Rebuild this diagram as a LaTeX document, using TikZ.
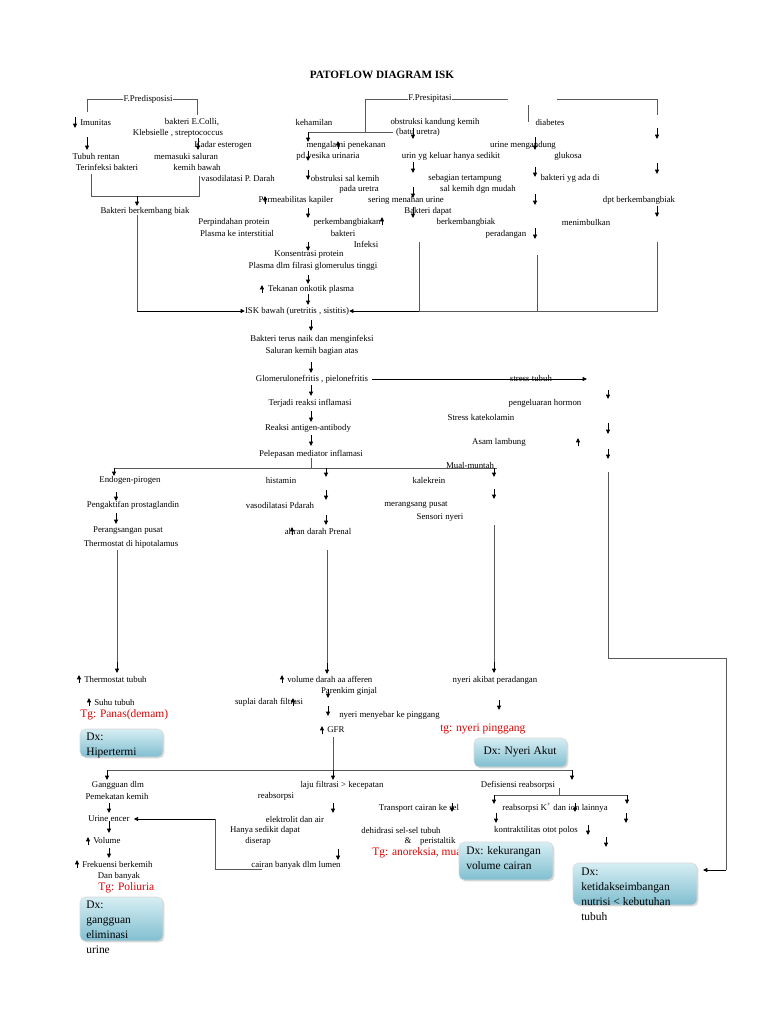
\documentclass[tikz,border=0pt]{standalone}
\usepackage{fontspec}
\setmainfont{Liberation Serif}
\usetikzlibrary{arrows.meta,shadows}
\begin{document}
\begin{tikzpicture}[x=0.75pt,y=-0.75pt,
  t/.style={inner sep=0pt,font=\fontsize{6.6}{7.5}\selectfont},
  tl/.style={t,anchor=west},
  red/.style={inner sep=0pt,anchor=west,text=red!90!black,font=\fontsize{8.6}{10}\selectfont},
  ln/.style={draw=black!65,line width=0.6pt},
  arr/.style={draw=black,line width=0.6pt,-{Triangle[length=3.2pt,width=3pt]}},
  dx/.style={draw=black!15,rounded corners=4pt,top color={rgb,255:red,214;green,238;blue,243},bottom color={rgb,255:red,128;green,190;blue,208},drop shadow={opacity=0.3,shadow xshift=1pt,shadow yshift=-1pt}},
  dxt/.style={inner sep=0pt,anchor=north west,align=left,font=\fontsize{8.6}{11.2}\selectfont}]
\useasboundingbox[fill=white] (0,0) rectangle (768,1024);
\newcommand\dar[3]{\draw[arr] (#1,#2) -- (#1,#3);}
\newcommand\uar[2]{\draw[arr] (#1,#2+4) -- (#1,#2-4);}

\node[inner sep=0pt,font=\bfseries\fontsize{8.4}{10}\selectfont] (title) at (382,75) {PATOFLOW DIAGRAM ISK};

% ---- F.Predisposisi
\node[t] (fpre) at (148,99) {F.Predisposisi};
\draw[ln] (fpre.west) -- (87,99) -- (87,112);
\draw[ln] (fpre.east) -- (197,99) -- (197,115);
\node[tl] (imu) at (80,123) {Imunitas}; \dar{75}{117}{128}
\node[t] (ecoli) at (192,122) {bakteri E.Colli,};
\node[t] (kleb) at (178,133) {Klebsielle , streptococcus};
\dar{87}{137}{150}
\node[t] (kadar) at (223,145) {Kadar esterogen}; \dar{198}{138}{150}
\node[t] (rentan) at (96,156) {Tubuh rentan};
\node[t] (masuk) at (186,156) {memasuki saluran};
\node[t] (terinf) at (107,167) {Terinfeksi bakteri};
\node[t] (kemihb) at (197,167) {kemih bawah};
\node[t] (vaso1) at (238,179) {vasodilatasi P. Darah};
\draw[ln] (91,174) -- (91,196) -- (199,196) -- (199,176);
\dar{137}{196}{206}
\node[t] (bbiak) at (145,211) {Bakteri berkembang biak};

% ---- F.Presipitasi
\node[t] (fpres) at (430,99) {F.Presipitasi};
\draw[ln] (fpres.west) -- (365,99) -- (365,133);
\draw[ln] (fpres.east) -- (508,99);
\draw[ln] (557,99) -- (657,99) -- (657,115);
\draw[ln] (528,105) -- (528,122);
\node[t] (hamil) at (314,122) {kehamilan};
\node[t] (obkk) at (435,122) {obstruksi kandung kemih};
\node[t] (batu) at (418,132) {(batu uretra)}; \dar{413}{128}{139}
\node[t] (diab) at (550,122) {diabetes};
\draw[ln] (393,132) -- (308,132); \dar{308}{132}{142}
\node[t] (penek) at (346,145) {mengalami penekanan}; \uar{338}{145}
\node[t] (urmeng) at (523,145) {urine mengandung}; \dar{535}{137}{150}
\node[t] (vesika) at (328,156) {pd vesika urinaria}; \dar{308}{151}{161}
\node[t] (sedikit) at (451,156) {urin yg keluar hanya sedikit};
\node[t] (gluk) at (568,156) {glukosa};
\dar{657}{128}{139} \dar{657}{163}{174} \dar{657}{206}{217}
\dar{413}{162}{173} \dar{413}{187}{198} \dar{413}{207}{218}
\dar{535}{167}{177} \dar{535}{194}{205} \dar{535}{228}{239}
\dar{308}{170}{180}
\node[t] (obsal) at (345,178) {obstruksi sal kemih};
\node[t] (uretra) at (359,189) {pada uretra};
\node[t] (tamp) at (465,178) {sebagian tertampung};
\node[t] (bakdi) at (570,178) {bakteri yg ada di};
\node[t] (mudah) at (478,189) {sal kemih dgn mudah};
\node[t] (perm) at (296,200) {Permeabilitas kapiler}; \uar{265}{200}
\node[t] (menahan) at (406,200) {sering menahan urine};
\node[t] (dptbk) at (639,200) {dpt berkembangbiak};
\node[t] (bakdap) at (428,211) {Bakteri dapat};
\dar{308}{208}{218}
\node[t] (pindah) at (234,222) {Perpindahan protein};
\node[t] (pkb) at (347,222) {perkembangbiakan}; \uar{382}{221}
\node[t] (bkb) at (466,222) {berkembangbiak};
\node[t] (menimb) at (586,222) {menimbulkan};
\node[t] (plasint) at (237,233) {Plasma ke interstitial};
\node[t] (bakt) at (343,233) {bakteri};
\node[t] (perad) at (506,234) {peradangan};
\node[t] (infeksi) at (366,244) {Infeksi};
\dar{308}{242}{251}
\node[t] (konsen) at (309,255) {Konsentrasi protein};
\node[t] (plglo) at (313,266) {Plasma dlm filrasi glomerulus tinggi};
\dar{308}{275}{284}
\node[t] (onko) at (311,289) {Tekanan onkotik plasma}; \uar{262}{289}
\dar{308}{294}{305}
\node[t] (isk) at (297,311) {ISK bawah (uretritis , sistitis)};
\draw[ln] (bbiak.south -| 137,0) -- (137,311); \draw[arr] (137,311) -- (isk.west);
\draw[ln] (419,242) -- (419,311); \draw[ln] (537,255) -- (537,311);
\draw[ln] (657,242) -- (657,311) -- (419,311); \draw[arr] (419,311) -- (isk.east);

% ---- middle chain
\dar{311}{320}{331}
\node[t] (naik) at (312,339) {Bakteri terus naik dan menginfeksi};
\node[t] (atas) at (312,351) {Saluran kemih bagian atas};
\dar{311}{362}{373}
\node[t] (glom) at (312,379) {Glomerulonefritis , pielonefritis};
\node[t] (stress) at (531,378) {stress tubuh};
\draw[arr] ([xshift=3pt]glom.east) -- (587,379);
\dar{311}{385}{396}
\node[t] (terj) at (310,403) {Terjadi reaksi inflamasi};
\dar{608}{390}{399}
\node[t] (horm) at (545,403) {pengeluaran hormon};
\node[t] (kate) at (481,417) {Stress katekolamin};
\dar{311}{411}{422}
\node[t] (antig) at (308,428) {Reaksi antigen-antibody};
\dar{608}{423}{434}
\node[t] (asam) at (499,442) {Asam lambung}; \uar{578}{442}
\dar{311}{435}{446}
\dar{608}{449}{459}
\node[t] (pelep) at (311,454) {Pelepasan mediator inflamasi};
\node[t] (mual) at (470,465) {Mual-muntah};
\draw[ln] (pelep.south) -- (311,468);
\draw[ln] (114,468) -- (497,468);
\dar{114}{468}{476} \dar{326}{468}{477} \dar{494}{468}{477}
\node[t] (endo) at (130,480) {Endogen-pirogen};
\node[t] (hist) at (281,480) {histamin};
\node[t] (kalek) at (429,480) {kalekrein};
\dar{116}{492}{501} \dar{326}{490}{500} \dar{494}{489}{499}
\node[t] (prost) at (133,505) {Pengaktifan prostaglandin};
\node[t] (vaso2) at (280,505) {vasodilatasi Pdarah};
\node[t] (merang) at (416,505) {merangsang pusat};
\node[t] (sens) at (440,518) {Sensori nyeri};
\dar{116}{513}{524} \dar{326}{515}{525}
\node[t] (perang) at (128,531) {Perangsangan pusat};
\node[t] (aliran) at (318,531) {aliran darah Prenal}; \uar{292}{531}
\node[t] (hipot) at (131,544) {Thermostat di hipotalamus};
\draw[ln] (117,550) -- (117,662); \dar{117}{662}{673}
\draw[ln] (327,550) -- (327,663); \dar{327}{663}{674}
\draw[ln] (494,525) -- (494,662); \dar{494}{662}{673}
\draw[ln] (608,472) -- (608,658) -- (726,658) -- (726,870);
\draw[arr] (726,870) -- (703,870);

% ---- lower
\node[tl] (thermo) at (84,679) {Thermostat tubuh}; \uar{79}{679}
\node[tl] (volaff) at (287,679) {volume darah aa afferen}; \uar{282}{679}
\node[t] (nyeriak) at (495,680) {nyeri akibat peradangan};
\node[t] (parenk) at (349,691) {Parenkim ginjal}; \dar{328}{689}{698}
\node[tl] (suhu) at (94,702) {Suhu tubuh}; \uar{89}{702}
\node[t] (suplai) at (269,702) {suplai darah filtrasi}; \uar{293}{702}
\dar{499}{700}{710}
\node[red] (panas) at (80,715) {Tg: Panas(demam)};
\dar{328}{706}{716}
\node[tl] (menyebar) at (339,715) {nyeri menyebar ke pinggang};
\node[red] (tgnyeri) at (440,729) {tg: nyeri pinggang};
\node[tl] (gfr) at (327,730) {GFR}; \uar{322}{730}
\path[dx] (80,729) rectangle (163,757);
\node[dxt] (dxh) at (86,733) {Dx:\\Hipertermi};
\path[dx] (474,738) rectangle (567,767);
\node[dxt,anchor=center] (dxn) at (520,752) {Dx: Nyeri  Akut};
\draw[ln] (333,737) -- (333,770);
\draw[ln] (107,770) -- (572,770);
\dar{107}{770}{780} \dar{333}{770}{780} \dar{572}{770}{780}
\node[t] (gangg) at (118,785) {Gangguan dlm};
\node[t] (pemek) at (117,796) {Pemekatan kemih};
\node[t] (laju) at (342,785) {laju filtrasi > kecepatan};
\node[t] (reab) at (276,796) {reabsorpsi};
\node[t] (defis) at (518,785) {Defisiensi reabsorpsi};
\draw[ln] (559,788) -- (559,795);
\draw[ln] (494,795) -- (627,795);
\dar{494}{795}{804} \dar{627}{795}{804}
\dar{109}{803}{813} \dar{333}{803}{813}
\node[t] (transp) at (419,808) {Transport cairan ke sel}; \dar{452}{803}{812}
\node[t] (reabk) at (555,808) {reabsorpsi K\textsuperscript{+} dan ion lainnya}; \dar{575}{803}{812}
\node[tl] (encer) at (88,819) {Urine encer};
\node[t] (elek) at (295,819) {elektrolit dan air};
\dar{496}{813}{823} \dar{626}{813}{823}
\dar{109}{821}{833}
\node[t] (hanya) at (265,830) {Hanya sedikit dapat};
\node[t] (dehid) at (401,830) {dehidrasi sel-sel tubuh};
\node[t] (kontr) at (536,830) {kontraktilitas otot polos}; \dar{588}{825}{835}
\node[tl] (volu) at (93,841) {Volume}; \uar{88}{841}
\node[t] (diser) at (258,841) {diserap};
\node[t] (peris) at (430,841) {\&\quad peristaltik};
\dar{606}{837}{847}
\dar{109}{848}{858} \dar{338}{849}{860}
\node[red] (anor) at (372,853) {Tg: anoreksia, mual};
\node[tl] (frek) at (82,864) {Frekuensi berkemih}; \uar{77}{864}
\node[t] (cairan) at (296,865) {cairan banyak dlm lumen};
\draw[ln] (262,869) -- (215,869) -- (215,819); \draw[arr] (215,819) -- ([xshift=3pt]encer.east);
\node[t] (dan) at (119,876) {Dan banyak};
\node[red] (poli) at (98,888) {Tg: Poliuria};
\path[dx] (459,842) rectangle (553,880);
\node[dxt] (dxk) at (466,846) {Dx: kekurangan\\volume cairan};
\path[dx] (573,863) rectangle (697,905);
\node[dxt] (dxke) at (581,868) {Dx:\\ketidakseimbangan\\nutrisi < kebutuhan\\tubuh};
\path[dx] (80,897) rectangle (163,941);
\node[dxt] (dxg) at (86,901) {Dx:\\gangguan\\eliminasi\\urine};
\end{tikzpicture}
\end{document}
